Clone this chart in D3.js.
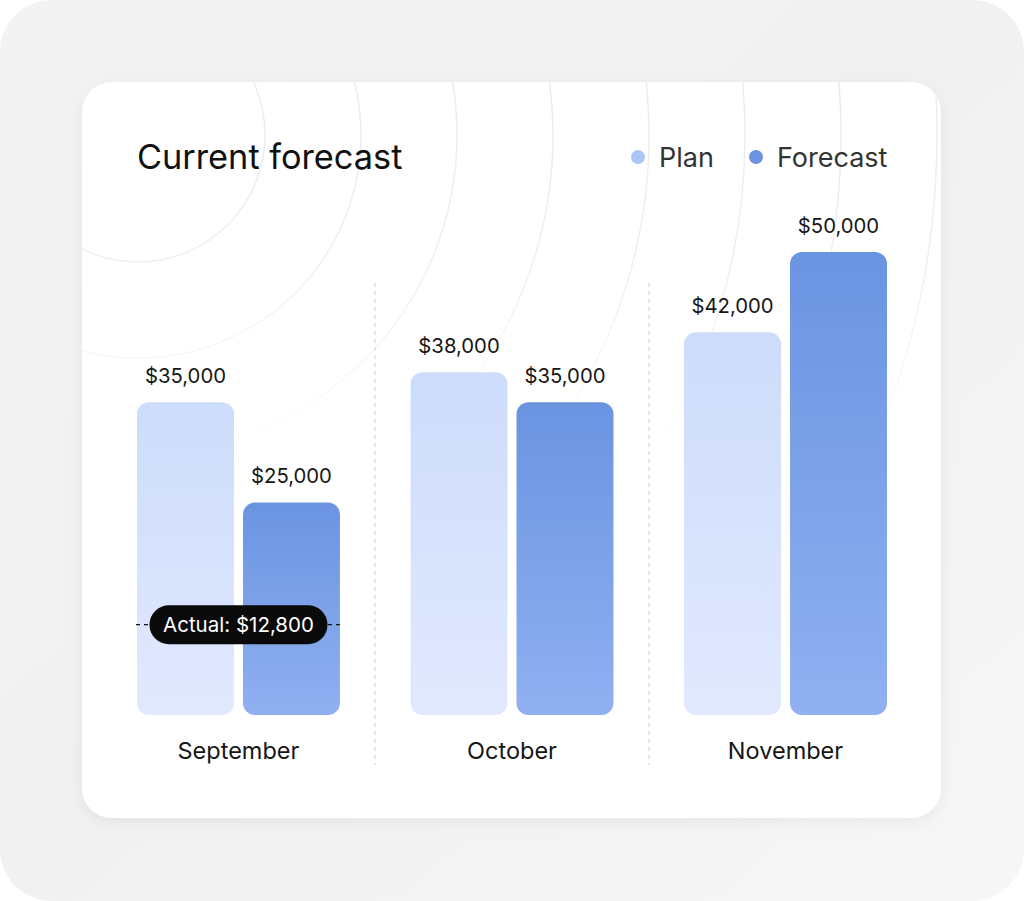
<!DOCTYPE html>
<html lang="en">
<head>
<meta charset="UTF-8">
<title>Current forecast</title>
<style>
    body { margin: 0; padding: 0; background: #ffffff; }
    svg { display: block; font-family: Inter, "Noto Sans", sans-serif; }
</style>
<script src="https://d3js.org/d3.v7.min.js"></script>
</head>
<body>
<div id="chart"></div>
<script>
    // data
    const months = ["September", "October", "November"];
    const seriesNames = ["Plan", "Forecast"];
    const planValues = [35000, 38000, 42000];
    const forecastValues = [25000, 35000, 50000];
    const actualMonth = "September";
    const actualValue = 12800;

    const width = 1024, height = 901;
    const card = { x: 82, y: 82, w: 859, h: 736 };

    const svg = d3.select("#chart").append("svg")
        .attr("width", width)
        .attr("height", height);

    const defs = svg.append("defs");

    const bg = defs.append("linearGradient").attr("id", "bg")
        .attr("x1", 0).attr("y1", 0).attr("x2", 1).attr("y2", 1);
    bg.append("stop").attr("offset", 0).attr("stop-color", "#f3f3f3");
    bg.append("stop").attr("offset", 0.5).attr("stop-color", "#f1f1f1");
    bg.append("stop").attr("offset", 1).attr("stop-color", "#f7f7f7");

    const gPlan = defs.append("linearGradient").attr("id", "gPlan")
        .attr("x1", 0).attr("y1", 0).attr("x2", 0).attr("y2", 1);
    gPlan.append("stop").attr("offset", 0).attr("stop-color", "#cddcfb");
    gPlan.append("stop").attr("offset", 1).attr("stop-color", "#e1e9fe");

    const gFc = defs.append("linearGradient").attr("id", "gFc")
        .attr("x1", 0).attr("y1", 0).attr("x2", 0).attr("y2", 1);
    gFc.append("stop").attr("offset", 0).attr("stop-color", "#6a94e1");
    gFc.append("stop").attr("offset", 1).attr("stop-color", "#90b0f1");

    // rings fade out towards the bars
    const fade = defs.append("linearGradient").attr("id", "fade")
        .attr("gradientUnits", "userSpaceOnUse")
        .attr("x1", 0).attr("y1", 82).attr("x2", 0).attr("y2", 460);
    fade.append("stop").attr("offset", 0).attr("stop-color", "#fff");
    fade.append("stop").attr("offset", 0.45).attr("stop-color", "#fff").attr("stop-opacity", 0.85);
    fade.append("stop").attr("offset", 1).attr("stop-color", "#fff").attr("stop-opacity", 0);
    defs.append("mask").attr("id", "ringMask")
        .attr("maskUnits", "userSpaceOnUse")
        .attr("x", 0).attr("y", 0).attr("width", width).attr("height", height)
        .append("rect")
        .attr("width", width).attr("height", height)
        .attr("fill", "url(#fade)");

    const shadow = defs.append("filter").attr("id", "shadow")
        .attr("x", "-10%").attr("y", "-10%").attr("width", "120%").attr("height", "125%");
    shadow.append("feDropShadow")
        .attr("dx", 0).attr("dy", 4).attr("stdDeviation", 8)
        .attr("flood-color", "#000").attr("flood-opacity", 0.06);

    defs.append("clipPath").attr("id", "cardClip")
        .append("rect")
        .attr("x", card.x).attr("y", card.y)
        .attr("width", card.w).attr("height", card.h)
        .attr("rx", 30);

    // page + card
    svg.append("rect")
        .attr("width", width).attr("height", height)
        .attr("rx", 52)
        .attr("fill", "url(#bg)");

    svg.append("rect")
        .attr("x", card.x).attr("y", card.y)
        .attr("width", card.w).attr("height", card.h)
        .attr("rx", 30)
        .attr("fill", "#ffffff")
        .attr("filter", "url(#shadow)");

    // decorative rings
    svg.append("g")
        .attr("clip-path", "url(#cardClip)")
        .attr("mask", "url(#ringMask)")
        .selectAll("circle")
        .data(d3.range(8).map(i => 127 + i * 96))
        .join("circle")
        .attr("cx", 138)
        .attr("cy", 135)
        .attr("r", d => d)
        .attr("fill", "none")
        .attr("stroke", "#ebebeb")
        .attr("stroke-width", 1.4);

    // title + legend
    svg.append("text")
        .attr("x", 137).attr("y", 169)
        .attr("font-size", 34.3)
        .attr("fill", "#111111")
        .text("Current forecast");

    const legendColors = { Plan: "#abc5f5", Forecast: "#6a94e1" };
    const legendX = [638, 756];
    const legend = svg.append("g").selectAll("g")
        .data(seriesNames)
        .join("g")
        .attr("transform", (d, i) => `translate(${legendX[i]},157)`);
    legend.append("circle").attr("r", 7).attr("fill", d => legendColors[d]);
    legend.append("text")
        .attr("x", 21).attr("y", 9.5)
        .attr("font-size", 27)
        .attr("fill", "#333333")
        .text(d => d);

    // scales
    const x = d3.scaleBand()
        .domain(months)
        .range([137, 887])
        .paddingInner(0.258);

    const xs = d3.scaleBand()
        .domain(seriesNames)
        .range([0, x.bandwidth()])
        .paddingInner(0.085);

    const y = d3.scaleLinear()
        .domain([3790, 50000])
        .range([715, 252]);

    const rows = months.map((m, i) => ({ month: m, Plan: planValues[i], Forecast: forecastValues[i] }));

    // separators
    svg.append("g").selectAll("line")
        .data(months.slice(1))
        .join("line")
        .attr("x1", d => x(d) - x.step() * x.paddingInner() / 2)
        .attr("x2", d => x(d) - x.step() * x.paddingInner() / 2)
        .attr("y1", 283).attr("y2", 765)
        .attr("stroke", "#dddddd")
        .attr("stroke-width", 1.3)
        .attr("stroke-dasharray", "4 4");

    // bars
    const groups = svg.append("g").selectAll("g")
        .data(rows)
        .join("g")
        .attr("transform", d => `translate(${x(d.month)},0)`);

    const cells = groups.selectAll("g")
        .data(d => seriesNames.map(s => ({ key: s, value: d[s] })))
        .join("g");

    cells.append("rect")
        .attr("x", d => xs(d.key))
        .attr("y", d => y(d.value))
        .attr("width", xs.bandwidth())
        .attr("height", d => y.range()[0] - y(d.value))
        .attr("rx", 12)
        .attr("fill", d => d.key === "Plan" ? "url(#gPlan)" : "url(#gFc)");

    cells.append("text")
        .attr("x", d => xs(d.key) + xs.bandwidth() / 2)
        .attr("y", d => y(d.value) - 19)
        .attr("text-anchor", "middle")
        .attr("font-size", 20.3)
        .attr("fill", "#161616")
        .text(d => "$" + d3.format(",")(d.value));

    // month labels
    svg.append("g").selectAll("text")
        .data(months)
        .join("text")
        .attr("x", d => x(d) + x.bandwidth() / 2)
        .attr("y", 759)
        .attr("text-anchor", "middle")
        .attr("font-size", 23.5)
        .attr("fill", "#161616")
        .text(d => d);

    // actual marker
    const ay = y(actualValue);
    const ax0 = x(actualMonth);
    const acx = ax0 + x.bandwidth() / 2;
    svg.append("line")
        .attr("x1", ax0 - 1).attr("x2", ax0 + x.bandwidth() + 1)
        .attr("y1", ay).attr("y2", ay)
        .attr("stroke", "#111111")
        .attr("stroke-width", 1.3)
        .attr("stroke-dasharray", "4 4");
    svg.append("rect")
        .attr("x", acx - 89).attr("y", ay - 19.5)
        .attr("width", 178).attr("height", 39)
        .attr("rx", 19.5)
        .attr("fill", "#0a0a0a");
    svg.append("text")
        .attr("x", acx).attr("y", ay + 7.5)
        .attr("text-anchor", "middle")
        .attr("font-size", 20.5)
        .attr("fill", "#ffffff")
        .text("Actual: $" + d3.format(",")(actualValue));
</script>
</body>
</html>
